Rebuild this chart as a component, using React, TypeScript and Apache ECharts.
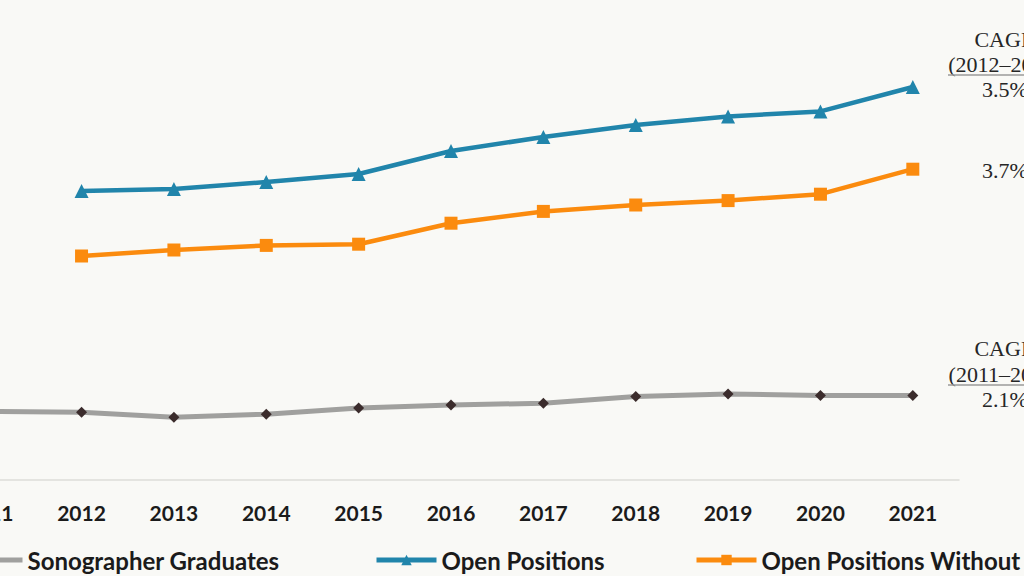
import React, { useEffect, useRef } from "react";
import * as echarts from "echarts";

// Categories and series values
const years = ["2011", "2012", "2013", "2014", "2015", "2016", "2017", "2018", "2019", "2020", "2021"];
const graduates = [3430, 3390, 3140, 3290, 3600, 3750, 3840, 4170, 4300, 4220, 4220];
const openPositions = [null, 14450, 14550, 14900, 15300, 16450, 17150, 17750, 18180, 18430, 19650];
const openWithout = [null, 11200, 11500, 11730, 11790, 12840, 13430, 13750, 13970, 14290, 15540];

const seriesNames = ["Sonographer Graduates", "Open Positions", "Open Positions Without Retirements"];
const cagrTop = ["CAGR", "(2012–2021)", "3.5%", "3.7%"];
const cagrBottom = ["CAGR", "(2011–2021)", "2.1%"];

const SHIFT = 100; // chart canvas starts left of the visible frame
const BG = "#f9f9f6";
const BLUE = "#2185ab";
const ORANGE = "#fb8b0e";
const GRAY = "#a0a09e";
const INK = "#1b1b1b";

export default function App() {
  const ref = useRef<HTMLDivElement>(null);

  useEffect(() => {
    if (!ref.current) return;
    const chart = echarts.init(ref.current, undefined, { renderer: "svg" });
    const serif = "'Liberation Serif', 'Times New Roman', serif";
    const noteText = (txt: string, x: number, y: number) => ({
      type: "text",
      x: x + SHIFT,
      y,
      style: { text: txt, fill: "#262626", font: `22px ${serif}`, textAlign: "center", textVerticalAlign: "middle" },
    });
    const underline = (y: number) => ({
      type: "line",
      shape: { x1: 948 + SHIFT, y1: y, x2: 1070 + SHIFT, y2: y },
      style: { stroke: "#9a9a9a", lineWidth: 1.5 },
    });
    const legendBase = {
      top: 543,
      itemWidth: 60,
      itemHeight: 13,
      itemGap: 0,
      lineStyle: { width: 5 },
      textStyle: { fontFamily: "Lato", fontWeight: "bold", fontSize: 24, color: INK },
    };

    chart.setOption({
      animation: false,
      backgroundColor: BG,
      grid: { left: 43, right: 65, top: 40, bottom: 96 },
      xAxis: {
        type: "category",
        data: years,
        boundaryGap: true,
        axisLine: { lineStyle: { color: "#dcdcd8", width: 1.5 } },
        axisTick: { show: false },
        axisLabel: { margin: 22, fontFamily: "Lato", fontWeight: "bold", fontSize: 21, color: INK },
      },
      yAxis: {
        type: "value",
        min: 0,
        max: 22000,
        show: false,
        splitLine: { show: false },
      },
      legend: [
        { ...legendBase, left: 55, data: [seriesNames[0]] },
        { ...legendBase, left: 469, data: [seriesNames[1]] },
        { ...legendBase, left: 789, data: [seriesNames[2]] },
      ],
      series: [
        {
          name: seriesNames[0],
          type: "line",
          data: graduates,
          symbol: "diamond",
          symbolSize: 11,
          lineStyle: { color: GRAY, width: 5 },
          itemStyle: { color: "#3b2c2c" },
        },
        {
          name: seriesNames[1],
          type: "line",
          data: openPositions,
          symbol: "triangle",
          symbolSize: 14,
          lineStyle: { color: BLUE, width: 4.5 },
          itemStyle: { color: BLUE },
        },
        {
          name: seriesNames[2],
          type: "line",
          data: openWithout,
          symbol: "rect",
          symbolSize: 13,
          lineStyle: { color: ORANGE, width: 4.5 },
          itemStyle: { color: ORANGE },
        },
      ],
      graphic: [
        noteText(cagrTop[0], 1005, 39),
        noteText(cagrTop[1], 1005, 64),
        underline(75),
        noteText(cagrTop[2], 1005, 89),
        noteText(cagrTop[3], 1005, 170),
        noteText(cagrBottom[0], 1005, 348),
        noteText(cagrBottom[1], 1005, 374),
        underline(385),
        noteText(cagrBottom[2], 1005, 399),
      ],
    });
    return () => chart.dispose();
  }, []);

  return (
    <div style={{ position: "fixed", left: 0, top: 0, width: 1024, height: 576, overflow: "hidden", background: BG }}>
      <div ref={ref} style={{ position: "absolute", left: -SHIFT, top: 0, width: 1024 + SHIFT, height: 576 }} />
    </div>
  );
}
